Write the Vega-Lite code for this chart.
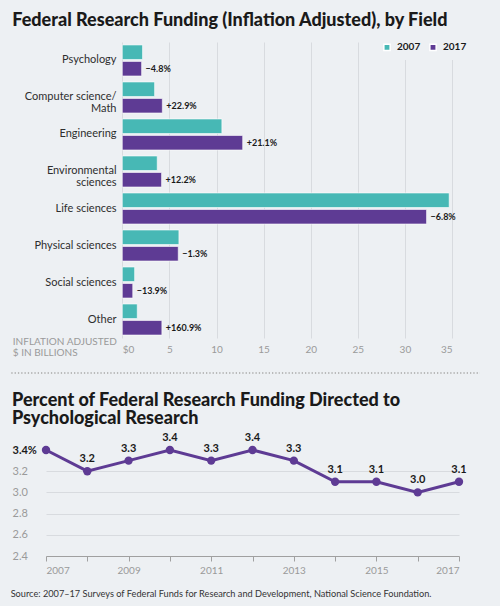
{
  "$schema": "https://vega.github.io/schema/vega-lite/v6.json",
  "background": "#edf0f3",
  "padding": {"left": 10, "top": 12, "right": 21, "bottom": 6},
  "spacing": 15,
  "config": {
    "view": {"stroke": null},
    "font": "Lato",
    "axis": {"labelFont": "Lato", "titleFont": "Lato"},
    "title": {"font": "Lato", "color": "#1a1a1a"}
  },
  "title": {
    "text": "Source: 2007\u201317 Surveys of Federal Funds for Research and Development, National Science Foundation.",
    "orient": "bottom",
    "anchor": "start",
    "fontSize": 9.2,
    "fontWeight": "normal",
    "color": "#333333",
    "offset": 15
  },
  "vconcat": [
    {
      "width": 406,
      "height": 296,
      "title": {
        "text": "Federal Research Funding (Inflation Adjusted), by Field",
        "anchor": "start",
        "frame": "bounds",
        "fontSize": 18,
        "fontWeight": 900,
        "offset": 12
      },
      "data": {
        "values": [
          {"field": "Psychology", "year": "2007", "value": 2.15, "change": ""},
          {"field": "Psychology", "year": "2017", "value": 2.05, "change": "\u22124.8%"},
          {"field": "Computer science/|Math", "year": "2007", "value": 3.43, "change": ""},
          {"field": "Computer science/|Math", "year": "2017", "value": 4.25, "change": "+22.9%"},
          {"field": "Engineering", "year": "2007", "value": 10.57, "change": ""},
          {"field": "Engineering", "year": "2017", "value": 12.78, "change": "+21.1%"},
          {"field": "Environmental|sciences", "year": "2007", "value": 3.71, "change": ""},
          {"field": "Environmental|sciences", "year": "2017", "value": 4.17, "change": "+12.2%"},
          {"field": "Life sciences", "year": "2007", "value": 34.7, "change": ""},
          {"field": "Life sciences", "year": "2017", "value": 32.3, "change": "\u22126.8%"},
          {"field": "Physical sciences", "year": "2007", "value": 6.01, "change": ""},
          {"field": "Physical sciences", "year": "2017", "value": 5.94, "change": "\u22121.3%"},
          {"field": "Social sciences", "year": "2007", "value": 1.31, "change": ""},
          {"field": "Social sciences", "year": "2017", "value": 1.11, "change": "\u221213.9%"},
          {"field": "Other", "year": "2007", "value": 1.59, "change": ""},
          {"field": "Other", "year": "2017", "value": 4.2, "change": "+160.9%"}
        ]
      },
      "encoding": {
        "y": {
          "field": "field",
          "type": "nominal",
          "sort": null,
          "scale": {"paddingInner": 0.162, "paddingOuter": 0.08},
          "axis": {
            "title": null,
            "ticks": false,
            "domain": false,
            "labelExpr": "split(datum.label, '|')",
            "labelFontSize": 11,
            "labelColor": "#2e2e2e",
            "labelLineHeight": 12,
            "labelPadding": -70,
            "labelLimit": 200
          }
        },
        "yOffset": {"field": "year", "type": "nominal", "scale": {"paddingInner": 0.12}},
        "x": {
          "field": "value",
          "type": "quantitative",
          "scale": {"domain": [0, 35], "nice": false, "range": [76.3, 406]},
          "axis": {
            "values": [0, 5, 10, 15, 20, 25, 30, 35],
            "labelExpr": "datum.value == 0 ? '$0' : datum.label",
            "ticks": false,
            "domain": false,
            "grid": true,
            "gridColor": "#d8dbdf",
            "labelColor": "#9a9a9a",
            "labelFontSize": 10,
            "labelPadding": 6,
            "title": ["INFLATION ADJUSTED", "$ IN BILLIONS"],
            "titleColor": "#9a9a9a",
            "titleFontSize": 10,
            "titleFontWeight": "normal",
            "titleAlign": "left",
            "titleBaseline": "top",
            "titleLineHeight": 11,
            "titleX": -33.7,
            "titleY": -2
          }
        }
      },
      "layer": [
        {
          "mark": {"type": "bar", "stroke": "#ffffff", "strokeWidth": 0.6},
          "encoding": {
            "color": {
              "field": "year",
              "type": "nominal",
              "scale": {"domain": ["2007", "2017"], "range": ["#47b8b5", "#5e3b94"]},
              "legend": {
                "title": null,
                "orient": "none",
                "direction": "horizontal",
                "legendX": 330,
                "legendY": -6,
                "padding": 6,
                "fillColor": "#edf0f3",
                "symbolType": "square",
                "symbolSize": 40,
                "symbolOpacity": 1,
                "labelFontSize": 10,
                "labelFontWeight": "bold",
                "labelColor": "#1a1a1a",
                "labelOffset": 5,
                "columnPadding": 5
              }
            }
          }
        },
        {
          "transform": [{"filter": "datum.year == '2017'"}],
          "mark": {"type": "text", "align": "left", "baseline": "middle", "dx": 4, "fontSize": 9, "fontWeight": "bold", "color": "#1a1a1a"},
          "encoding": {"text": {"field": "change"}}
        }
      ]
    },
    {
      "width": 434,
      "height": 4,
      "data": {"values": [{"from": 0, "to": 1, "sep": 1}]},
      "mark": {"type": "rule", "color": "#a8a8a8", "strokeWidth": 1.3, "strokeDash": [1.3, 2]},
      "encoding": {
        "x": {"field": "from", "type": "quantitative", "scale": {"domain": [0, 1], "range": [-34.7, 434]}, "axis": null},
        "x2": {"field": "to"},
        "y": {"field": "sep", "type": "quantitative", "scale": {"domain": [0, 1]}, "axis": null}
      }
    },
    {
      "width": 413,
      "height": 106,
      "title": {
        "text": ["Percent of Federal Research Funding Directed to", "Psychological Research"],
        "anchor": "start",
        "frame": "bounds",
        "fontSize": 18,
        "fontWeight": 900,
        "lineHeight": 18,
        "offset": 4
      },
      "data": {
        "values": [
          {"year": 2007, "pct": 3.4},
          {"year": 2008, "pct": 3.2},
          {"year": 2009, "pct": 3.3},
          {"year": 2010, "pct": 3.4},
          {"year": 2011, "pct": 3.3},
          {"year": 2012, "pct": 3.4},
          {"year": 2013, "pct": 3.3},
          {"year": 2014, "pct": 3.1},
          {"year": 2015, "pct": 3.1},
          {"year": 2016, "pct": 3.0},
          {"year": 2017, "pct": 3.1}
        ]
      },
      "encoding": {
        "x": {
          "field": "year",
          "type": "quantitative",
          "scale": {"domain": [2007, 2017], "nice": false, "zero": false},
          "axis": {
            "title": null,
            "values": [2007, 2008, 2009, 2010, 2011, 2012, 2013, 2014, 2015, 2016, 2017],
            "labelExpr": "datum.value % 2 == 1 ? datum.value : ''",
            "grid": false,
            "domainColor": "#a0a0a0",
            "tickColor": "#a0a0a0",
            "tickSize": 5,
            "labelColor": "#9a9a9a",
            "labelFontSize": 10,
            "labelPadding": 4
          }
        },
        "y": {
          "field": "pct",
          "type": "quantitative",
          "scale": {"domain": [2.4, 3.4], "nice": false, "zero": false},
          "axis": {
            "title": null,
            "values": [2.4, 2.6, 2.8, 3.0, 3.2, 3.4],
            "labelExpr": "datum.value == 3.4 ? '3.4%' : format(datum.value, '.1f')",
            "labelAlign": "left",
            "labelPadding": 34,
            "labelFontSize": 11,
            "labelColor": {"condition": {"test": "datum.value == 3.4", "value": "#1a1a1a"}, "value": "#9a9a9a"},
            "labelFontWeight": {"condition": {"test": "datum.value == 3.4", "value": "bold"}, "value": "normal"},
            "ticks": false,
            "domain": false,
            "grid": true,
            "gridColor": "#d8dbdf",
            "gridOpacity": {"condition": {"test": "datum.value == 3.4", "value": 0}, "value": 1}
          }
        }
      },
      "layer": [
        {"mark": {"type": "line", "color": "#5e3b94", "strokeWidth": 3}},
        {"mark": {"type": "point", "filled": true, "size": 70, "opacity": 1, "color": "#5e3b94"}},
        {
          "transform": [{"filter": "datum.year > 2007"}],
          "mark": {"type": "text", "baseline": "middle", "dy": -12, "fontSize": 11, "fontWeight": "bold", "color": "#1a1a1a"},
          "encoding": {"text": {"field": "pct", "type": "quantitative", "format": ".1f"}}
        }
      ]
    }
  ]
}
